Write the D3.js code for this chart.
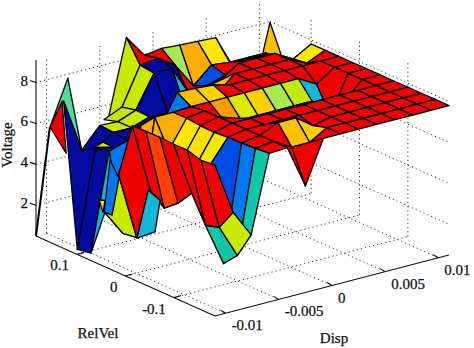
<html>
<head>
<title>Voltage surface</title>
<script src="https://d3js.org/d3.v7.min.js"></script>
<style>
body { margin: 0; background: #fff; }
svg { display: block; }
text { font-family: 'Liberation Serif', serif; font-size: 15px; fill: #111; stroke: #111; stroke-width: 0.25px; }
</style>
</head>
<body>
<div id="chart"></div>
<script>
// tick labels
var dispTicks = [-0.01, -0.005, 0, 0.005, 0.01];
var relVelTicks = [0.1, 0, -0.1];
var voltTicks = [2, 4, 6, 8];

// sample positions of the surface
var dispVals = [-0.011, -0.0093, -0.0076, -0.0059, -0.0042, -0.0025, -0.0008, 0.0008, 0.0025, 0.0042, 0.0059, 0.0076, 0.0093, 0.011];
var relVelVals = [0.185, 0.1565, 0.128, 0.0996, 0.0712, 0.0427, 0.0142, -0.0142, -0.0427, -0.0712, -0.0996, -0.128, -0.1565, -0.185];

// voltage, one row per relVel, one column per disp
var voltage = [
  [0.5, null, null, null, 5.34, 9.05, 7.95, 8.07, 8.0, 7.95, 7.9, 6.2, 4.4, 7.96],
  [6.1, 8.28, null, 5.8, 6.18, 8.0, 8.1, 7.54, 6.3, 7.1, 7.0, 7.0, 7.0, 6.3],
  [7.7, 5.07, 6.05, 6.0, 6.33, 7.9, 7.9, 6.47, 6.63, 6.9, 7.4, 7.4, 6.9, 6.8],
  [0.75, 5.46, 6.0, 6.0, 6.3, 6.25, 6.17, 7.0, 7.2, 7.8, 7.8, 7.8, 7.3, 7.8],
  [0.87, 5.62, 5.9, 5.8, 6.0, 6.2, 6.5, 7.0, 7.8, 7.8, 7.8, 7.8, 7.4, 7.8],
  [3.15, 1.9, 6.95, 6.5, 8.1, 8.07, 8.0, 7.8, 7.8, 7.8, 7.8, 7.8, 7.8, 7.8],
  [5.3, 2.0, 7.65, 7.66, 7.7, 7.7, 7.7, 7.7, 7.7, 7.7, 7.7, 7.2, 7.8, 7.8],
  [8.0, 4.6, 6.3, 7.67, 7.8, 7.16, 6.9, 6.9, 6.9, 6.9, 6.9, 6.0, 7.8, 7.8],
  [8.02, 4.04, 6.2, 7.6, 7.8, 7.5, 7.2, 6.9, 6.9, 6.9, 6.9, 6.9, 7.8, 7.8],
  [8.03, 4.58, 6.2, 7.58, 7.8, 7.8, 7.8, 7.8, 7.8, 7.8, 7.8, 7.8, 7.8, 7.8],
  [7.99, 5.37, 6.5, 7.64, 7.8, 7.8, 7.8, 7.8, 7.8, 7.8, 7.8, 7.8, 7.8, 7.8],
  [8.0, 4.1, 2.0, 7.65, 7.8, 8.2, 8.2, 7.6, 7.8, 7.8, 7.8, 7.8, 7.8, 7.8],
  [7.8, 4.3, 2.7, 7.7, 7.8, 7.3, 7.3, 7.8, 7.8, 7.8, 7.8, 7.8, 7.8, 7.8],
  [7.87, 5.34, 4.0, 7.76, 7.8, 5.7, 7.8, 7.8, 7.8, 7.8, 7.8, 7.8, 7.8, 7.8]
];

// colour value of each facet (0 to 1 on the jet map)
var shade = [
  [0.86, 0.86, 0.86, 0.86, 0.58, 0.86, 0.86, 0.53, 0.70, 0.63, 0.63, 0.86, 0.68],
  [0.47, 0.86, 0.86, 0.58, 0.58, 0.02, 0.02, 0.86, 0.15, 0.86, 0.86, 0.86, 0.86],
  [0.02, 0.02, 0.58, 0.58, 0.02, 0.02, 0.33, 0.86, 0.86, 0.86, 0.86, 0.86, 0.86],
  [0.02, 0.02, 0.02, 0.02, 0.02, 0.24, 0.68, 0.68, 0.86, 0.86, 0.86, 0.86, 0.63],
  [0.33, 0.24, 0.86, 0.33, 0.33, 0.68, 0.68, 0.86, 0.86, 0.86, 0.86, 0.86, 0.86],
  [0.58, 0.70, 0.70, 0.24, 0.68, 0.66, 0.86, 0.86, 0.86, 0.86, 0.86, 0.86, 0.86],
  [0.86, 0.70, 0.70, 0.86, 0.86, 0.72, 0.60, 0.66, 0.53, 0.57, 0.33, 0.86, 0.86],
  [0.86, 0.86, 0.63, 0.86, 0.86, 0.86, 0.86, 0.86, 0.86, 0.86, 0.86, 0.86, 0.86],
  [0.80, 0.86, 0.64, 0.86, 0.86, 0.86, 0.86, 0.86, 0.86, 0.86, 0.86, 0.86, 0.86],
  [0.86, 0.86, 0.62, 0.86, 0.86, 0.86, 0.86, 0.86, 0.86, 0.86, 0.86, 0.86, 0.86],
  [0.86, 0.86, 0.15, 0.86, 0.86, 0.86, 0.86, 0.86, 0.86, 0.86, 0.86, 0.86, 0.86],
  [0.86, 0.40, 0.24, 0.86, 0.86, 0.68, 0.66, 0.86, 0.86, 0.86, 0.86, 0.86, 0.86],
  [0.86, 0.58, 0.40, 0.86, 0.86, 0.86, 0.86, 0.86, 0.86, 0.86, 0.86, 0.86, 0.86]
];

// folded facets that do not sit on the regular grid
var foldDisp = -0.0093;
var foldRelVel = [
  [0.193, 0.1685, 0.160],
  [0.0134, -0.0236, -0.0342, -0.0094],
  [0.1002, 0.0837, 0.0632, 0.0797],
  [0.0817, 0.0652, 0.0507, 0.0692],
  [0.0919, 0.0837, 0.0797]
];
var foldVolt = [
  [5.5, 7.03, 4.58],
  [1.98, 2.67, 4.33, 4.56],
  [5.5, 5.93, 5.9, 5.72],
  [2.53, 2.56, 4.51, 5.2],
  [3.0, 2.5, 3.14]
];
var foldShade = [0.86, 0.33, 0.60, 0.24, 0.63];

var svg = d3.select("#chart").append("svg").attr("width", 474).attr("height", 348);

// oblique projection, one scale per screen direction
var dispX = d3.scaleLinear().domain([-0.011, 0.011]).range([0, 234]);
var dispY = d3.scaleLinear().domain([-0.011, 0.011]).range([0, -61]);
var relVelX = d3.scaleLinear().domain([0.185, -0.185]).range([0, 179]);
var relVelY = d3.scaleLinear().domain([0.185, -0.185]).range([0, 80]);
var voltY = d3.scaleLinear().domain([0.5, 9.1]).range([0, -176]);

// the picture's colormap, a muted jet
var jet = d3.scaleLinear()
  .domain([0, 0.11, 0.24, 0.33, 0.40, 0.47, 0.53, 0.58, 0.63, 0.68, 0.72, 0.80, 0.86, 1])
  .range(["#00008f", "#0038e0", "#0078f0", "#12b6d8", "#10c8a8", "#50dc96", "#a8e850", "#c8ea00", "#ffe800", "#ffc000", "#ff9a00", "#ff4000", "#f00000", "#800000"]);

function project(d, r, v) {
  return [36 + dispX(d) + relVelX(r), 236 + dispY(d) + relVelY(r) + voltY(v)];
}

function addLine(a, b, cls) {
  var line = svg.append("line")
    .attr("x1", a[0]).attr("y1", a[1]).attr("x2", b[0]).attr("y2", b[1]);
  if (cls == "grid") {
    line.attr("stroke", "#333").attr("stroke-width", 1).attr("stroke-dasharray", "1.2 3");
  } else {
    line.attr("stroke", "#111").attr("stroke-width", 1.1);
  }
  return line;
}

var dMin = -0.011, dMax = 0.011, rMax = 0.185, rMin = -0.185, vMin = 0.5, vMax = 9.1;

// dotted grid on floor and the two back walls
dispTicks.forEach(function(d) {
  addLine(project(d, rMax, vMin), project(d, rMin, vMin), "grid");
  addLine(project(d, rMax, vMin), project(d, rMax, vMax), "grid");
});
relVelTicks.forEach(function(r) {
  addLine(project(dMin, r, vMin), project(dMax, r, vMin), "grid");
  addLine(project(dMax, r, vMin), project(dMax, r, vMax), "grid");
});
voltTicks.forEach(function(v) {
  addLine(project(dMin, rMax, v), project(dMax, rMax, v), "grid");
  addLine(project(dMax, rMax, v), project(dMax, rMin, v), "grid");
});

// box edges
addLine(project(dMin, rMax, vMin), project(dMin, rMax, vMax), "axis");
addLine(project(dMin, rMax, vMin), project(dMin, rMin, vMin), "axis");
addLine(project(dMin, rMin, vMin), project(dMax, rMin, vMin), "axis");

// ticks and labels
voltTicks.forEach(function(v) {
  var p = project(dMin, rMax, v);
  addLine(p, [p[0] - 6, p[1] - 2], "axis");
  svg.append("text").attr("x", p[0] - 8).attr("y", p[1] + 3).attr("text-anchor", "end").text(v);
});
relVelTicks.forEach(function(r) {
  var p = project(dMin, r, vMin);
  addLine(p, [p[0] + 7, p[1] - 2], "axis");
  svg.append("text").attr("x", p[0] - 8).attr("y", p[1] + 16).attr("text-anchor", "end").text(r);
});
dispTicks.forEach(function(d) {
  var p = project(d, rMin, vMin);
  addLine(p, [p[0] - 5, p[1] - 3], "axis");
  svg.append("text").attr("x", p[0] + 6).attr("y", p[1] + 17).text(d);
});

svg.append("text").attr("x", 98).attr("y", 338).attr("text-anchor", "middle").text("RelVel");
svg.append("text").attr("x", 334).attr("y", 343).attr("text-anchor", "middle").text("Disp");
svg.append("text").attr("transform", "translate(12,145) rotate(-90)").attr("text-anchor", "middle").text("Voltage");

// surface, back to front
var drawPoly = d3.line();
for (var i = dispVals.length - 2; i >= 0; i--) {
  for (var j = 0; j < relVelVals.length - 1; j++) {
    var vs = [voltage[j][i], voltage[j][i + 1], voltage[j + 1][i + 1], voltage[j + 1][i]];
    if (vs.indexOf(null) >= 0) continue;
    var pts = [
      project(dispVals[i], relVelVals[j], vs[0]),
      project(dispVals[i + 1], relVelVals[j], vs[1]),
      project(dispVals[i + 1], relVelVals[j + 1], vs[2]),
      project(dispVals[i], relVelVals[j + 1], vs[3])
    ];
    svg.append("path")
      .attr("d", drawPoly(pts) + "Z")
      .attr("fill", jet(shade[j][i]))
      .attr("stroke", "#000").attr("stroke-width", 1.3).attr("stroke-linejoin", "round");
  }
}

foldRelVel.forEach(function(rs, k) {
  var pts = rs.map(function(r, n) { return project(foldDisp, r, foldVolt[k][n]); });
  svg.append("path")
    .attr("d", drawPoly(pts) + "Z")
    .attr("fill", jet(foldShade[k]))
    .attr("stroke", "#000").attr("stroke-width", 1.3).attr("stroke-linejoin", "round");
});

// the lone first edge of the surface
svg.append("line")
  .datum([project(dispVals[0], relVelVals[0], voltage[0][0]), project(dispVals[0], relVelVals[1], voltage[1][0])])
  .attr("x1", function(d) { return d[0][0]; }).attr("y1", function(d) { return d[0][1]; })
  .attr("x2", function(d) { return d[1][0]; }).attr("y2", function(d) { return d[1][1]; })
  .attr("stroke", "#000").attr("stroke-width", 2);
</script>
</body>
</html>
